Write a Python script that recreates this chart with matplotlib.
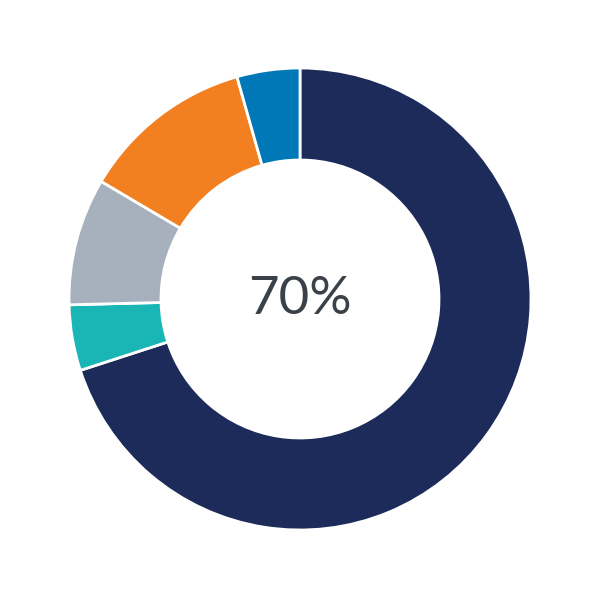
import matplotlib
matplotlib.use('Agg')
import matplotlib.pyplot as plt

labels = ['Navy', 'Teal', 'Gray', 'Orange', 'Blue']
shares = [70.0, 4.6, 8.9, 12.1, 4.4]
colors = ['#1c2b59', '#1ab5b5', '#a7b1be', '#f28021', '#0077b6']
center_label = '70%'

fig = plt.figure(figsize=(6.0, 5.99), dpi=100)
ax = fig.add_axes([0, 0, 1, 1])

ax.pie(shares, colors=colors, startangle=90, counterclock=False,
       radius=231, center=(0, 0),
       wedgeprops=dict(width=92, edgecolor='white', linewidth=2))

ax.text(0, 0, center_label, ha='center', va='center', fontsize=38,
        color='#3a4149', family=['Lato', 'DejaVu Sans'], fontweight='normal')

ax.set_xlim(-300, 300)
ax.set_ylim(-300, 299)
ax.set_aspect('equal')
ax.axis('off')

plt.savefig('out.png', dpi=100, facecolor='white')
